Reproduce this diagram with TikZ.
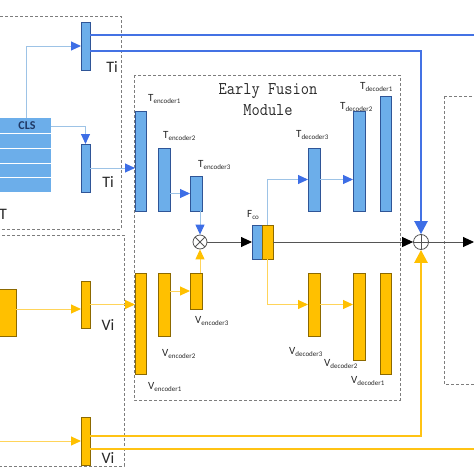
\documentclass[tikz,border=0pt]{standalone}
\usepackage{fontspec}
\setmainfont{Carlito}
\usetikzlibrary{arrows.meta,calc}
\definecolor{barblue}{RGB}{108,174,234}
\definecolor{barblueline}{RGB}{47,85,151}
\definecolor{baryel}{RGB}{255,192,0}
\definecolor{baryelline}{RGB}{140,105,0}
\definecolor{thinblue}{RGB}{157,195,230}
\definecolor{thinyel}{RGB}{255,212,90}
\definecolor{tipblue}{RGB}{61,110,230}
\definecolor{tipyel}{RGB}{255,192,0}
\definecolor{thickblue}{RGB}{68,114,228}
\definecolor{thickyel}{RGB}{255,195,20}
\definecolor{dashgray}{RGB}{125,125,125}
\definecolor{clstext}{RGB}{31,56,100}
\definecolor{linegray}{RGB}{85,85,85}
\definecolor{labgray}{RGB}{40,40,40}
\newcommand\sublab[2]{{\fontsize{11}{11}\selectfont #1}\raisebox{-2pt}{\fontsize{7}{7}\selectfont #2}}
\tikzset{
  bbar/.style={draw=barblueline,fill=barblue,line width=0.8pt,inner sep=0pt,outer sep=0pt},
  ybar/.style={draw=baryelline,fill=baryel,line width=0.8pt,inner sep=0pt,outer sep=0pt},
  lab/.style={inner sep=0pt,anchor=base west,text=labgray},
  big/.style={inner sep=0pt,text=labgray,font=\fontsize{16}{16}\selectfont},
  dbox/.style={draw=dashgray,line width=0.8pt,dash pattern=on 3pt off 2pt},
  thinb/.style={draw=thinblue,line width=1pt},
  thiny/.style={draw=thinyel,line width=1pt},
  thickb/.style={draw=thickblue,line width=2.5pt},
  thicky/.style={draw=thickyel,line width=2.5pt},
  blk/.style={draw=linegray,line width=0.9pt},
  TB/.tip={Triangle[length=10pt,width=9pt,color=tipblue]},
  TY/.tip={Triangle[length=10pt,width=9pt,color=tipyel]},
  TK/.tip={Triangle[length=11pt,width=10pt,color=black]},
  TBB/.tip={Triangle[length=13pt,width=13pt,color=tipblue]},
  TYB/.tip={Triangle[length=13pt,width=13pt,color=tipyel]},
  opcirc/.style={circle,draw=linegray,fill=white,line width=0.8pt,inner sep=0pt,minimum size=15pt},
}
\begin{document}
\begin{tikzpicture}[x=1pt,y=-1pt]
\useasboundingbox (0,0) rectangle (474,474);
\clip (0,0) rectangle (474,474);
% dashed boxes
\draw[dbox] (-5,16) rectangle (121,229);
\draw[dbox] (-5,235) rectangle (124,466);
\draw[dbox] (134,75) rectangle (400,400);
\draw[dbox] (444,96) rectangle (490,384);
% CLS table
\node[fill=barblue,inner sep=0pt,minimum width=56pt,minimum height=74pt] (cls) at (23,155) {};
\foreach \yy in {133,148,163,177}{\draw[white,line width=1pt] (cls.west |- 0,\yy) -- (cls.east |- 0,\yy);}
\node[inner sep=0pt,text=clstext,font=\bfseries\fontsize{12}{12}\selectfont] (clst) at (27,126) {CLS};
\node[big] (tlab) at (3,214.5) {T};
% yellow input block
\node[ybar,minimum width=21pt,minimum height=47pt] (blkv) at (5.5,312.5) {};
% Ti / Vi bars
\node[bbar,minimum width=9pt,minimum height=48pt] (tia) at (85.5,46) {};
\node[bbar,minimum width=9pt,minimum height=48pt] (tib) at (85.5,168) {};
\node[ybar,minimum width=9pt,minimum height=47pt] (via) at (85.5,304.5) {};
\node[ybar,minimum width=9pt,minimum height=48pt] (vib) at (85.5,441) {};
\node[big] (tial) at (112,67) {Ti};
\node[big] (tibl) at (108,182) {Ti};
\node[big] (vial) at (108,325) {Vi};
\node[big] (vibl) at (108,458) {Vi};
% encoders
\node[bbar,minimum width=11pt,minimum height=100pt] (te1) at (140.5,161) {};
\node[bbar,minimum width=12pt,minimum height=63pt] (te2) at (164,179.5) {};
\node[bbar,minimum width=12pt,minimum height=35pt] (te3) at (196,193.5) {};
\node[ybar,minimum width=11pt,minimum height=101pt] (ve1) at (140.5,323.5) {};
\node[ybar,minimum width=12pt,minimum height=63pt] (ve2) at (164,304.5) {};
\node[ybar,minimum width=12pt,minimum height=36pt] (ve3) at (196,291) {};
% decoders
\node[bbar,minimum width=12pt,minimum height=63pt] (td3) at (314,179.5) {};
\node[bbar,minimum width=12pt,minimum height=100pt] (td2) at (359,161) {};
\node[bbar,minimum width=11pt,minimum height=115pt] (td1) at (385.5,153.5) {};
\node[ybar,minimum width=12pt,minimum height=63pt] (vd3) at (314,304.5) {};
\node[ybar,minimum width=12pt,minimum height=87pt] (vd2) at (359,316.5) {};
\node[ybar,minimum width=11pt,minimum height=101pt] (vd1) at (385.5,323.5) {};
% Fco
\node[bbar,minimum width=10pt,minimum height=34pt] (fcob) at (257,242) {};
\node[ybar,minimum width=11pt,minimum height=34pt] (fcoy) at (267.5,242) {};
% labels
\node[lab] (lte1) at (148,101) {\sublab{T}{encoder1}};
\node[lab] (lte2) at (163,138) {\sublab{T}{encoder2}};
\node[lab] (lte3) at (198,167) {\sublab{T}{encoder3}};
\node[lab] (ltd1) at (360,89) {\sublab{T}{decoder1}};
\node[lab] (ltd2) at (340,109) {\sublab{T}{decoder2}};
\node[lab] (ltd3) at (296,137) {\sublab{T}{decoder3}};
\node[lab] (lfco) at (247,217) {\sublab{F}{co}};
\node[lab] (lve3) at (195,323) {\sublab{V}{encoder3}};
\node[lab] (lve2) at (162,356) {\sublab{V}{encoder2}};
\node[lab] (lve1) at (148,389) {\sublab{V}{encoder1}};
\node[lab] (lvd3) at (289,354) {\sublab{V}{decoder3}};
\node[lab] (lvd2) at (324,366) {\sublab{V}{decoder2}};
\node[lab] (lvd1) at (351,383) {\sublab{V}{decoder1}};
\node[inner sep=0pt,text=labgray,font=\ttfamily\fontsize{16}{16}\selectfont] (efm1) at (268,91) {\scalebox{1}[1.12]{Early Fusion}};
\node[inner sep=0pt,text=labgray,font=\ttfamily\fontsize{16}{16}\selectfont] (efm2) at (268,110) {\scalebox{1}[1.12]{Module}};
% operators
\node[opcirc,minimum size=14pt,path picture={
  \draw[linegray,line width=0.8pt] (path picture bounding box.north west) -- (path picture bounding box.south east);
  \draw[linegray,line width=0.8pt] (path picture bounding box.north east) -- (path picture bounding box.south west);}] (ot) at (200,242) {};
\node[opcirc,path picture={
  \draw[linegray,line width=0.8pt] (path picture bounding box.north) -- (path picture bounding box.south);
  \draw[linegray,line width=0.8pt] (path picture bounding box.west) -- (path picture bounding box.east);}] (op) at (421,242) {};
% coordinates
\coordinate (c1) at (26,118);
\coordinate (c2) at (51,126);
\coordinate (y1) at (16,309);
\coordinate (vin) at (-2,441);
\coordinate (outr) at (474,242);
\coordinate (eb) at (480,35);
\coordinate (ey) at (480,449);
% blue connectors
\draw[thinb,-TB] (c1) |- (tia.west);
\draw[thinb,-TB] (c2) -| (tib.north);
\draw[thinb,-TB] (tib.east) -- (te1.west |- tib.east);
\draw[thinb,-TB] (te2.east |- te3.west) -- (te3.west);
\draw[thinb,-TB] (te3.south -| ot.north) -- (ot.north);
\draw[thinb,-TB] (fcoy.north) |- (td3.west);
\draw[thinb,-TB] (td3.east) -- (td2.west |- td3.east);
% yellow connectors
\draw[thiny,-TY] (y1) -- (via.west |- y1);
\draw[thiny,-TY] (via.east) -- (ve1.west |- via.east);
\draw[thiny,-TY] (ve2.east |- ve3.west) -- (ve3.west);
\draw[thiny,-TY] (ve3.north -| ot.south) -- (ot.south);
\draw[thiny,-TY] (fcoy.south) |- (vd3.west);
\draw[thiny,-TY] (vd3.east) -- (vd2.west |- vd3.east);
\draw[thiny,-TY] (vin) -- (vib.west);
% black connectors
\draw[blk,-TK] (ot.east) -- (fcob.west);
\draw[blk,-TK] (fcoy.east) -- (op.west);
\draw[blk,-TK] (op.east) -- (outr);
% thick lines
\draw[thickb] ($(tia.east)+(0,-11)$) -- (eb |- {$(tia.east)+(0,-11)$});
\draw[thickb,-TBB] ($(tia.east)+(0,5)$) -| (op.north);
\draw[thicky,-TYB] ($(vib.east)+(0,-5)$) -| (op.south);
\draw[thicky] ($(vib.east)+(0,8)$) -- (ey);
\end{tikzpicture}
\end{document}
